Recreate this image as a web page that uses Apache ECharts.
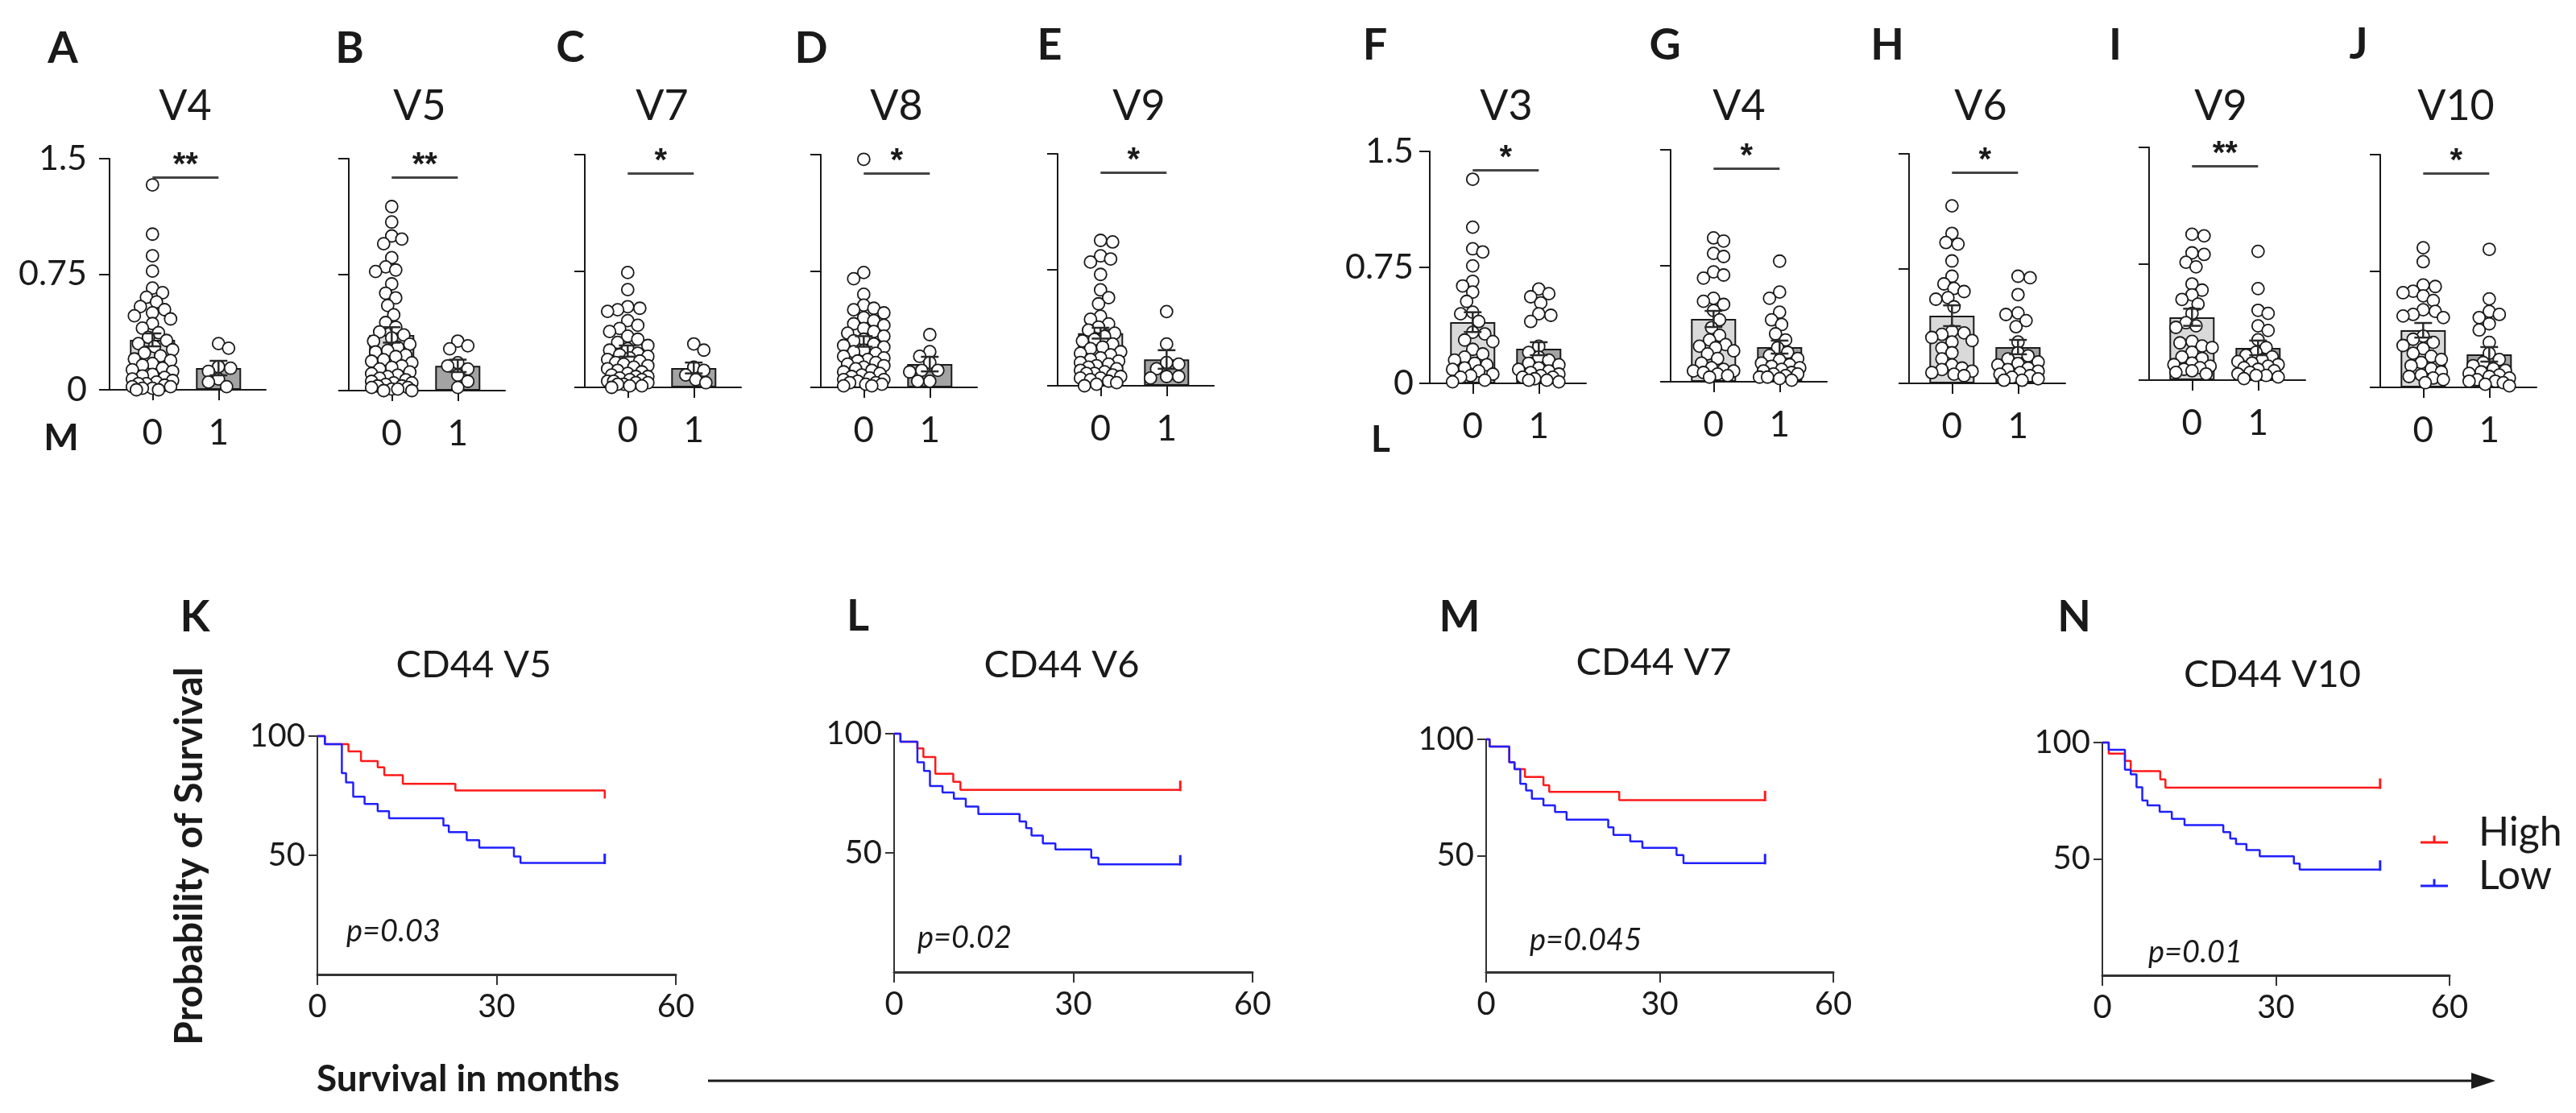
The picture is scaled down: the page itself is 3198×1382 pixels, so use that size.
<!DOCTYPE html>
<html>
<head>
<meta charset="utf-8">
<script src="https://cdn.jsdelivr.net/npm/echarts@6/dist/echarts.min.js"></script>
<style>
  html, body { margin: 0; padding: 0; background: #fff; }
  #chart { width: 3198px; height: 1382px; }
</style>
</head>
<body>
<div id="chart"></div>
<script>
const FONT = 'Lato'
const INK = '#1a1a1a'

// ---- top row: expression by group (M 0/1 for A-E, L 0/1 for F-J) ----
const groupLabels = ['0', '1']
const topTitles = ['V4', 'V5', 'V7', 'V8', 'V9', 'V3', 'V4', 'V6', 'V9', 'V10']
const topLetters = ['A', 'B', 'C', 'D', 'E', 'F', 'G', 'H', 'I', 'J']
const topStars = ['**', '**', '*', '*', '*', '*', '*', '*', '**', '*']
const sigLevel = 1.38

const barMean0 = [0.324, 0.36, 0.234, 0.296, 0.34, 0.396, 0.406, 0.442, 0.405, 0.368]
const barMean1 = [0.141, 0.16, 0.125, 0.15, 0.17, 0.224, 0.224, 0.237, 0.208, 0.213]
const barSem0 = [0.042, 0.05, 0.036, 0.034, 0.035, 0.064, 0.052, 0.068, 0.055, 0.047]
const barSem1 = [0.047, 0.04, 0.035, 0.047, 0.06, 0.042, 0.042, 0.047, 0.047, 0.047]

const v4M0 = [1.33, 1.01, 0.87, 0.77, 0.66, 0.63, 0.6, 0.57, 0.54, 0.52, 0.5, 0.48, 0.46, 0.43, 0.4, 0.37, 0.34, 0.32, 0.3, 0.28, 0.26, 0.24, 0.22, 0.2, 0.19, 0.17, 0.16, 0.14, 0.13, 0.12, 0.1, 0.09, 0.08, 0.07, 0.06, 0.05, 0.04, 0.04, 0.03, 0.02, 0.02, 0.01, 0.01, 0, 0]
const v4M1 = [0.3, 0.27, 0.15, 0.14, 0.12, 0.07, 0.05, 0.02]
const v5M0 = [1.19, 1.09, 1.0, 0.98, 0.95, 0.86, 0.8, 0.78, 0.77, 0.69, 0.63, 0.6, 0.55, 0.49, 0.44, 0.41, 0.38, 0.36, 0.34, 0.32, 0.3, 0.28, 0.26, 0.25, 0.23, 0.22, 0.2, 0.19, 0.18, 0.16, 0.15, 0.14, 0.12, 0.11, 0.1, 0.09, 0.08, 0.07, 0.06, 0.05, 0.05, 0.04, 0.03, 0.03, 0.02, 0.02, 0.01, 0.01, 0, 0]
const v5M1 = [0.32, 0.29, 0.27, 0.18, 0.16, 0.14, 0.1, 0.06, 0.02]
const v7M0 = [0.74, 0.63, 0.52, 0.51, 0.5, 0.49, 0.43, 0.4, 0.38, 0.36, 0.33, 0.31, 0.29, 0.27, 0.25, 0.24, 0.22, 0.21, 0.2, 0.19, 0.18, 0.17, 0.16, 0.15, 0.14, 0.13, 0.12, 0.11, 0.1, 0.09, 0.08, 0.07, 0.07, 0.06, 0.05, 0.05, 0.04, 0.04, 0.03, 0.03, 0.02, 0.02, 0.01, 0.01, 0]
const v7M1 = [0.28, 0.24, 0.13, 0.11, 0.08, 0.05, 0.03]
const v8M0 = [1.47, 0.74, 0.7, 0.6, 0.53, 0.51, 0.5, 0.48, 0.45, 0.43, 0.41, 0.4, 0.38, 0.36, 0.35, 0.33, 0.31, 0.3, 0.28, 0.27, 0.26, 0.24, 0.23, 0.22, 0.2, 0.19, 0.18, 0.17, 0.16, 0.15, 0.14, 0.13, 0.12, 0.11, 0.1, 0.09, 0.08, 0.07, 0.06, 0.05, 0.05, 0.04, 0.03, 0.03, 0.02, 0.02, 0.01, 0.01]
const v8M1 = [0.34, 0.23, 0.2, 0.16, 0.11, 0.11, 0.1, 0.04, 0.04]
const v9M0 = [0.94, 0.93, 0.84, 0.82, 0.8, 0.72, 0.62, 0.57, 0.53, 0.45, 0.43, 0.4, 0.38, 0.36, 0.34, 0.32, 0.3, 0.29, 0.27, 0.25, 0.24, 0.22, 0.21, 0.2, 0.18, 0.17, 0.16, 0.15, 0.14, 0.13, 0.12, 0.11, 0.1, 0.09, 0.08, 0.08, 0.07, 0.06, 0.05, 0.05, 0.04, 0.03, 0.02, 0.01, 0]
const v9M1 = [0.48, 0.27, 0.15, 0.14, 0.11, 0.06, 0.06, 0.05]
const v3L0 = [1.32, 1.01, 0.87, 0.85, 0.76, 0.66, 0.63, 0.59, 0.53, 0.46, 0.45, 0.4, 0.33, 0.32, 0.28, 0.27, 0.22, 0.19, 0.17, 0.15, 0.13, 0.12, 0.1, 0.09, 0.08, 0.06, 0.05, 0.04, 0.02, 0.01]
const v3L1 = [0.61, 0.58, 0.56, 0.52, 0.45, 0.44, 0.4, 0.24, 0.2, 0.17, 0.15, 0.13, 0.12, 0.1, 0.09, 0.08, 0.07, 0.06, 0.05, 0.04, 0.04, 0.03, 0.02, 0.02, 0.01]
const v4L0 = [0.93, 0.91, 0.83, 0.81, 0.71, 0.69, 0.67, 0.54, 0.52, 0.5, 0.46, 0.4, 0.35, 0.3, 0.27, 0.24, 0.23, 0.22, 0.2, 0.18, 0.15, 0.12, 0.09, 0.08, 0.07, 0.07, 0.06, 0.05, 0.04, 0.03]
const v4L1 = [0.78, 0.58, 0.54, 0.45, 0.4, 0.37, 0.31, 0.27, 0.22, 0.19, 0.17, 0.15, 0.14, 0.12, 0.11, 0.1, 0.09, 0.08, 0.07, 0.06, 0.05, 0.05, 0.04, 0.03, 0.03, 0.02, 0.01]
const v6L0 = [1.16, 0.98, 0.92, 0.91, 0.8, 0.7, 0.65, 0.62, 0.6, 0.56, 0.55, 0.5, 0.34, 0.33, 0.32, 0.3, 0.28, 0.27, 0.23, 0.2, 0.16, 0.12, 0.1, 0.09, 0.08, 0.07, 0.06, 0.05]
const v6L1 = [0.7, 0.69, 0.58, 0.46, 0.45, 0.41, 0.37, 0.27, 0.2, 0.18, 0.16, 0.14, 0.13, 0.12, 0.1, 0.09, 0.08, 0.07, 0.06, 0.05, 0.04, 0.03, 0.02, 0.02]
const v9L0 = [0.94, 0.93, 0.82, 0.81, 0.76, 0.73, 0.62, 0.58, 0.55, 0.52, 0.49, 0.43, 0.37, 0.35, 0.34, 0.25, 0.24, 0.22, 0.21, 0.18, 0.15, 0.14, 0.11, 0.1, 0.09, 0.08, 0.07, 0.06, 0.05, 0.04]
const v9L1 = [0.83, 0.59, 0.45, 0.43, 0.35, 0.32, 0.26, 0.21, 0.18, 0.16, 0.15, 0.13, 0.12, 0.11, 0.1, 0.09, 0.08, 0.07, 0.06, 0.05, 0.04, 0.03, 0.03, 0.02, 0.01]
const v10L0 = [0.9, 0.81, 0.66, 0.65, 0.62, 0.61, 0.59, 0.56, 0.5, 0.49, 0.47, 0.46, 0.45, 0.33, 0.31, 0.29, 0.27, 0.25, 0.22, 0.2, 0.18, 0.16, 0.14, 0.12, 0.1, 0.08, 0.07, 0.06, 0.05, 0.03]
const v10L1 = [0.89, 0.57, 0.49, 0.47, 0.45, 0.41, 0.37, 0.29, 0.22, 0.18, 0.16, 0.14, 0.12, 0.11, 0.1, 0.09, 0.08, 0.07, 0.06, 0.05, 0.04, 0.04, 0.03, 0.02, 0.01]

const topPoints = [[v4M0, v4M1], [v5M0, v5M1], [v7M0, v7M1], [v8M0, v8M1], [v9M0, v9M1],
  [v3L0, v3L1], [v4L0, v4L1], [v6L0, v6L1], [v9L0, v9L1], [v10L0, v10L1]]

// ---- bottom row: Kaplan-Meier, months vs % survival ----
const kmTitles = ['CD44 V5', 'CD44 V6', 'CD44 V7', 'CD44 V10']
const kmLetters = ['K', 'L', 'M', 'N']
const kmPvalues = ['p=0.03', 'p=0.02', 'p=0.045', 'p=0.01']

const v5HighT = [0, 1.25, 5.2, 7.3, 10.1, 11.2, 14.3, 23.1, 48.1]
const v5HighS = [100, 96.6, 93.6, 89.5, 86.9, 83.6, 80.0, 77.2, 73.8]
const v5LowT = [0, 1.25, 4.1, 4.8, 6.0, 7.9, 10.1, 12.0, 21.1, 22.0, 25.0, 27.1, 32.9, 34.0, 48.1]
const v5LowS = [100, 96.6, 84.5, 80.6, 74.6, 71.5, 68.5, 65.5, 62.5, 59.7, 56.3, 53.2, 49.5, 46.8, 46.8]
const v6HighT = [0, 1.06, 3.9, 4.9, 6.9, 9.9, 11.1, 47.9]
const v6HighS = [100, 96.6, 93.8, 90.2, 83.2, 79.8, 76.4, 76.4]
const v6LowT = [0, 1.06, 3.9, 5.0, 6.0, 8.1, 10.0, 12.0, 14.1, 21.0, 22.1, 23.0, 24.9, 27.0, 33.0, 34.2, 47.9]
const v6LowS = [100, 96.6, 88.0, 84.4, 78.0, 75.3, 72.7, 69.4, 66.3, 63.2, 60.4, 57.3, 54.0, 51.4, 48.0, 45.2, 45.2]
const v7HighT = [0, 0.6, 4.0, 4.9, 6.7, 9.9, 10.9, 23.0, 48.2]
const v7HighS = [100, 96.9, 90.1, 87.2, 83.8, 80.3, 77.4, 73.9, 73.9]
const v7LowT = [0, 0.6, 4.0, 4.9, 5.9, 6.9, 7.9, 9.9, 11.9, 13.9, 21.1, 22.0, 24.9, 27.0, 32.9, 34.1, 48.2]
const v7LowS = [100, 96.9, 90.1, 87.2, 80.9, 78.0, 74.5, 71.6, 68.8, 65.5, 62.2, 58.9, 56.1, 53.4, 50.3, 46.8, 46.8]
const v10HighT = [0, 1.1, 3.9, 4.9, 10.0, 10.9, 48.0]
const v10HighS = [100, 95.2, 92.1, 87.7, 84.2, 80.6, 80.6]
const v10LowT = [0, 1.1, 3.9, 4.9, 5.9, 6.9, 7.8, 9.9, 12.0, 14.2, 20.9, 22.1, 23.1, 24.9, 27.2, 33.1, 34.1, 48.0]
const v10LowS = [100, 96.9, 88.3, 86.3, 80.8, 75.1, 73.0, 70.2, 67.2, 64.5, 61.5, 58.7, 56.4, 53.8, 51.1, 48.0, 45.4, 45.4]

const kmCurves = [
  [[v5HighT, v5HighS], [v5LowT, v5LowS]],
  [[v6HighT, v6HighS], [v6LowT, v6LowS]],
  [[v7HighT, v7HighS], [v7LowT, v7LowS]],
  [[v10HighT, v10HighS], [v10LowT, v10LowS]]
]

// ---- layout (pixels) ----
// [y-axis x, y of 1.5, y of 0]
const topLayout = [[136, 197, 484], [433, 197, 485], [726, 192, 481], [1019, 192, 481], [1313, 191, 479],
  [1775, 188, 476], [2074, 186, 474], [2370, 191, 476], [2668, 183, 472], [2955, 192, 481]]
const topLetterPos = [[78, 61], [434, 61], [708, 60], [1007, 61], [1303, 57], [1707, 57], [2067, 57], [2343, 57], [2626, 57], [2928, 56]]
const topTitleX = [230, 521, 822, 1113, 1414, 1870, 2159, 2459, 2757, 3049]
// [y-axis x, y of 100, y of 0, x of 60]
const kmLayout = [[394, 914, 1210, 839], [1110, 911, 1207, 1555], [1845, 918, 1207, 2276], [2610, 922, 1211, 3041]]
const kmTitlePos = [[588, 826], [1318, 826], [2053, 823], [2821, 838]]
const kmLetterPos = [[242, 767], [1065, 766], [1812, 767], [2575, 767]]
const kmPPos = [[430, 1157], [1139, 1165], [1899, 1168], [2667, 1183]]

const CAT_PX = 82
const X_MIN = -0.65
const TOP_W = 194

function swarmOffsets(vals, pxPerVal, diam, maxOff) {
  const order = vals.map((v, i) => i).sort((a, b) => vals[b] - vals[a])
  const placed = []
  const out = new Array(vals.length).fill(0)
  order.forEach((i, n) => {
    const y = vals[i] * pxPerVal
    const cands = [0]
    for (let s = 2.5; s <= maxOff; s += 2.5) cands.push(n % 2 ? s : -s, n % 2 ? -s : s)
    let best = 0, bestD = -1
    for (const c of cands) {
      let d = Infinity
      for (const p of placed) d = Math.min(d, Math.hypot(p[0] - c, p[1] - y))
      if (d >= diam * 0.85) { best = c; break }
      if (d > bestD) { bestD = d; best = c }
    }
    out[i] = best
    placed.push([best, y])
  })
  return out
}

const grid = [], xAxis = [], yAxis = [], series = [], graphic = []
const axisLine = { lineStyle: { color: INK, width: 2 } }

function txt(x, y, text, size, extra) {
  return {
    type: 'text', x, y, silent: true,
    style: Object.assign({
      text, fontSize: size, fontFamily: FONT, fill: INK,
      align: 'center', verticalAlign: 'middle', textAlign: 'center', textVerticalAlign: 'middle'
    }, extra || {})
  }
}

topTitles.forEach((title, i) => {
  const [yx, top, zero] = topLayout[i]
  const pxPerVal = (zero - top) / 1.5
  grid.push({ left: yx, top, width: TOP_W, height: zero - top })
  xAxis.push({
    gridIndex: i, type: 'value', min: X_MIN, max: X_MIN + TOP_W / CAT_PX,
    axisLine,
    axisTick: { customValues: [0, 1], length: 13, lineStyle: { color: INK, width: 2 } },
    axisLabel: { customValues: [0, 1], formatter: v => groupLabels[v], fontSize: 44, fontFamily: FONT, color: INK, margin: 32 },
    splitLine: { show: false }
  })
  yAxis.push({
    gridIndex: i, type: 'value', min: 0, max: 1.5, interval: 0.75,
    axisLine: { show: true, onZero: false, lineStyle: { color: INK, width: 2 } },
    axisTick: { show: true, length: 13, lineStyle: { color: INK, width: 2 } },
    axisLabel: { show: i === 0 || i === 5, fontSize: 43, fontFamily: FONT, color: INK, margin: i === 0 ? 28 : 20 },
    splitLine: { show: false }
  })
  series.push({
    type: 'bar', xAxisIndex: i, yAxisIndex: i, barWidth: 56, silent: true, z: 1,
    itemStyle: { borderColor: INK, borderWidth: 2 },
    data: [
      { value: [0, barMean0[i]], itemStyle: { color: '#d9d9d9' } },
      { value: [1, barMean1[i]], itemStyle: { color: '#a3a3a3' } }
    ],
    markLine: {
      silent: true, symbol: 'none',
      lineStyle: { color: '#444', width: 3, type: 'solid' },
      label: {
        show: true, position: 'middle', formatter: topStars[i],
        fontSize: 40, fontFamily: 'Liberation Sans', fontWeight: 'bold', color: INK, distance: -6
      },
      data: [[{ coord: [0, sigLevel] }, { coord: [1, sigLevel] }]]
    }
  })
  const pts = []
  topPoints[i].forEach((vals, g) => {
    const offs = swarmOffsets(vals, pxPerVal, 15, 27)
    vals.forEach((v, k) => pts.push([g + offs[k] / CAT_PX, v]))
  })
  series.push({
    type: 'scatter', xAxisIndex: i, yAxisIndex: i, symbolSize: 15, clip: false, silent: true, z: 3,
    itemStyle: { color: '#fff', borderColor: INK, borderWidth: 1.8, opacity: 1 },
    data: pts
  })
  series.push({
    type: 'custom', xAxisIndex: i, yAxisIndex: i, silent: true, z: 4,
    data: [[0, barMean0[i], barSem0[i]], [1, barMean1[i], barSem1[i]]],
    renderItem: (params, api) => {
      const x = api.value(0), m = api.value(1), e = api.value(2)
      const hi = api.coord([x, m + e]), lo = api.coord([x, m - e])
      const st = { stroke: '#2a2a2a', lineWidth: 2.5 }
      return {
        type: 'group', children: [
          { type: 'line', shape: { x1: hi[0], y1: hi[1], x2: lo[0], y2: lo[1] }, style: st },
          { type: 'line', shape: { x1: hi[0] - 11, y1: hi[1], x2: hi[0] + 11, y2: hi[1] }, style: st },
          { type: 'line', shape: { x1: lo[0] - 11, y1: lo[1], x2: lo[0] + 11, y2: lo[1] }, style: st }
        ]
      }
    }
  })
  graphic.push(txt(topLetterPos[i][0], topLetterPos[i][1], topLetters[i], 54, { fontWeight: 'bold' }))
  graphic.push(txt(topTitleX[i], 132, title, 52))
})

kmTitles.forEach((title, j) => {
  const gi = topTitles.length + j
  const [yx, top, zero, x60] = kmLayout[j]
  grid.push({ left: yx, top, width: x60 - yx, height: zero - top })
  xAxis.push({
    gridIndex: gi, type: 'value', min: 0, max: 60, interval: 30,
    axisLine: { lineStyle: { color: '#333', width: 3 } },
    axisTick: { length: 13, lineStyle: { color: '#333', width: 2 } },
    axisLabel: { fontSize: 40, fontFamily: FONT, color: INK, margin: 20 },
    splitLine: { show: false }
  })
  yAxis.push({
    gridIndex: gi, type: 'value', min: 0, max: 100, interval: 50,
    axisLine: { show: true, onZero: false, lineStyle: { color: '#333', width: 2 } },
    axisTick: { show: true, length: 11, lineStyle: { color: '#333', width: 2 } },
    axisLabel: { showMinLabel: false, fontSize: 40, fontFamily: FONT, color: INK, margin: 15 },
    splitLine: { show: false }
  })
  kmCurves[j].forEach(([times, surv], c) => {
    const color = c === 0 ? '#ff1a1a' : '#2020ff'
    const last = times.length - 1
    const censored = surv[last] === surv[last - 1]
    series.push({
      name: c === 0 ? 'High' : 'Low',
      type: 'line', step: 'end', xAxisIndex: gi, yAxisIndex: gi, silent: true, clip: false,
      symbol: 'none', showSymbol: true, showAllSymbol: true,
      lineStyle: { color, width: 2.5 }, itemStyle: { color },
      data: times.map((t, k) => (k === last && censored)
        ? { value: [t, surv[k]], symbol: 'rect', symbolSize: [3, 13], symbolOffset: [0, -5] }
        : [t, surv[k]])
    })
  })
  graphic.push(txt(kmLetterPos[j][0], kmLetterPos[j][1], kmLetters[j], 54, { fontWeight: 'bold' }))
  graphic.push(txt(kmTitlePos[j][0], kmTitlePos[j][1], title, 47))
  graphic.push(txt(kmPPos[j][0], kmPPos[j][1], kmPvalues[j], 38, { fontStyle: 'italic', align: 'left', textAlign: 'left' }))
})

graphic.push(txt(76, 544, 'M', 46, { fontWeight: 'bold' }))
graphic.push(txt(1714, 546, 'L', 46, { fontWeight: 'bold' }))
graphic.push(Object.assign(txt(236, 1063, 'Probability of Survival', 48, { fontWeight: 'bold' }), { rotation: Math.PI / 2 }))
graphic.push(txt(393, 1340, 'Survival in months', 46, { fontWeight: 'bold', align: 'left', textAlign: 'left' }))
graphic.push({ type: 'line', silent: true, shape: { x1: 879, y1: 1342, x2: 3075, y2: 1342 }, style: { stroke: INK, lineWidth: 3 } })
graphic.push({ type: 'polygon', silent: true, shape: { points: [[3098, 1342], [3068, 1332], [3068, 1352]] }, style: { fill: INK } })

const chart = echarts.init(document.getElementById('chart'), null, { renderer: 'canvas' })
chart.setOption({
  backgroundColor: '#fff',
  animation: false,
  textStyle: { fontFamily: FONT },
  grid, xAxis, yAxis, series, graphic,
  legend: {
    data: ['High', 'Low'], orient: 'vertical', left: 3000, top: 1002, itemGap: 0,
    itemWidth: 34, itemHeight: 30, selectedMode: false,
    icon: 'path://M0,0H0.1V0.1H0Z M0,24H34V27H0Z M15.5,17H18.5V24H15.5Z',
    textStyle: { fontSize: 50, fontFamily: FONT, color: INK, lineHeight: 54, padding: [0, 0, 0, 33] }
  }
})
</script>
</body>
</html>
